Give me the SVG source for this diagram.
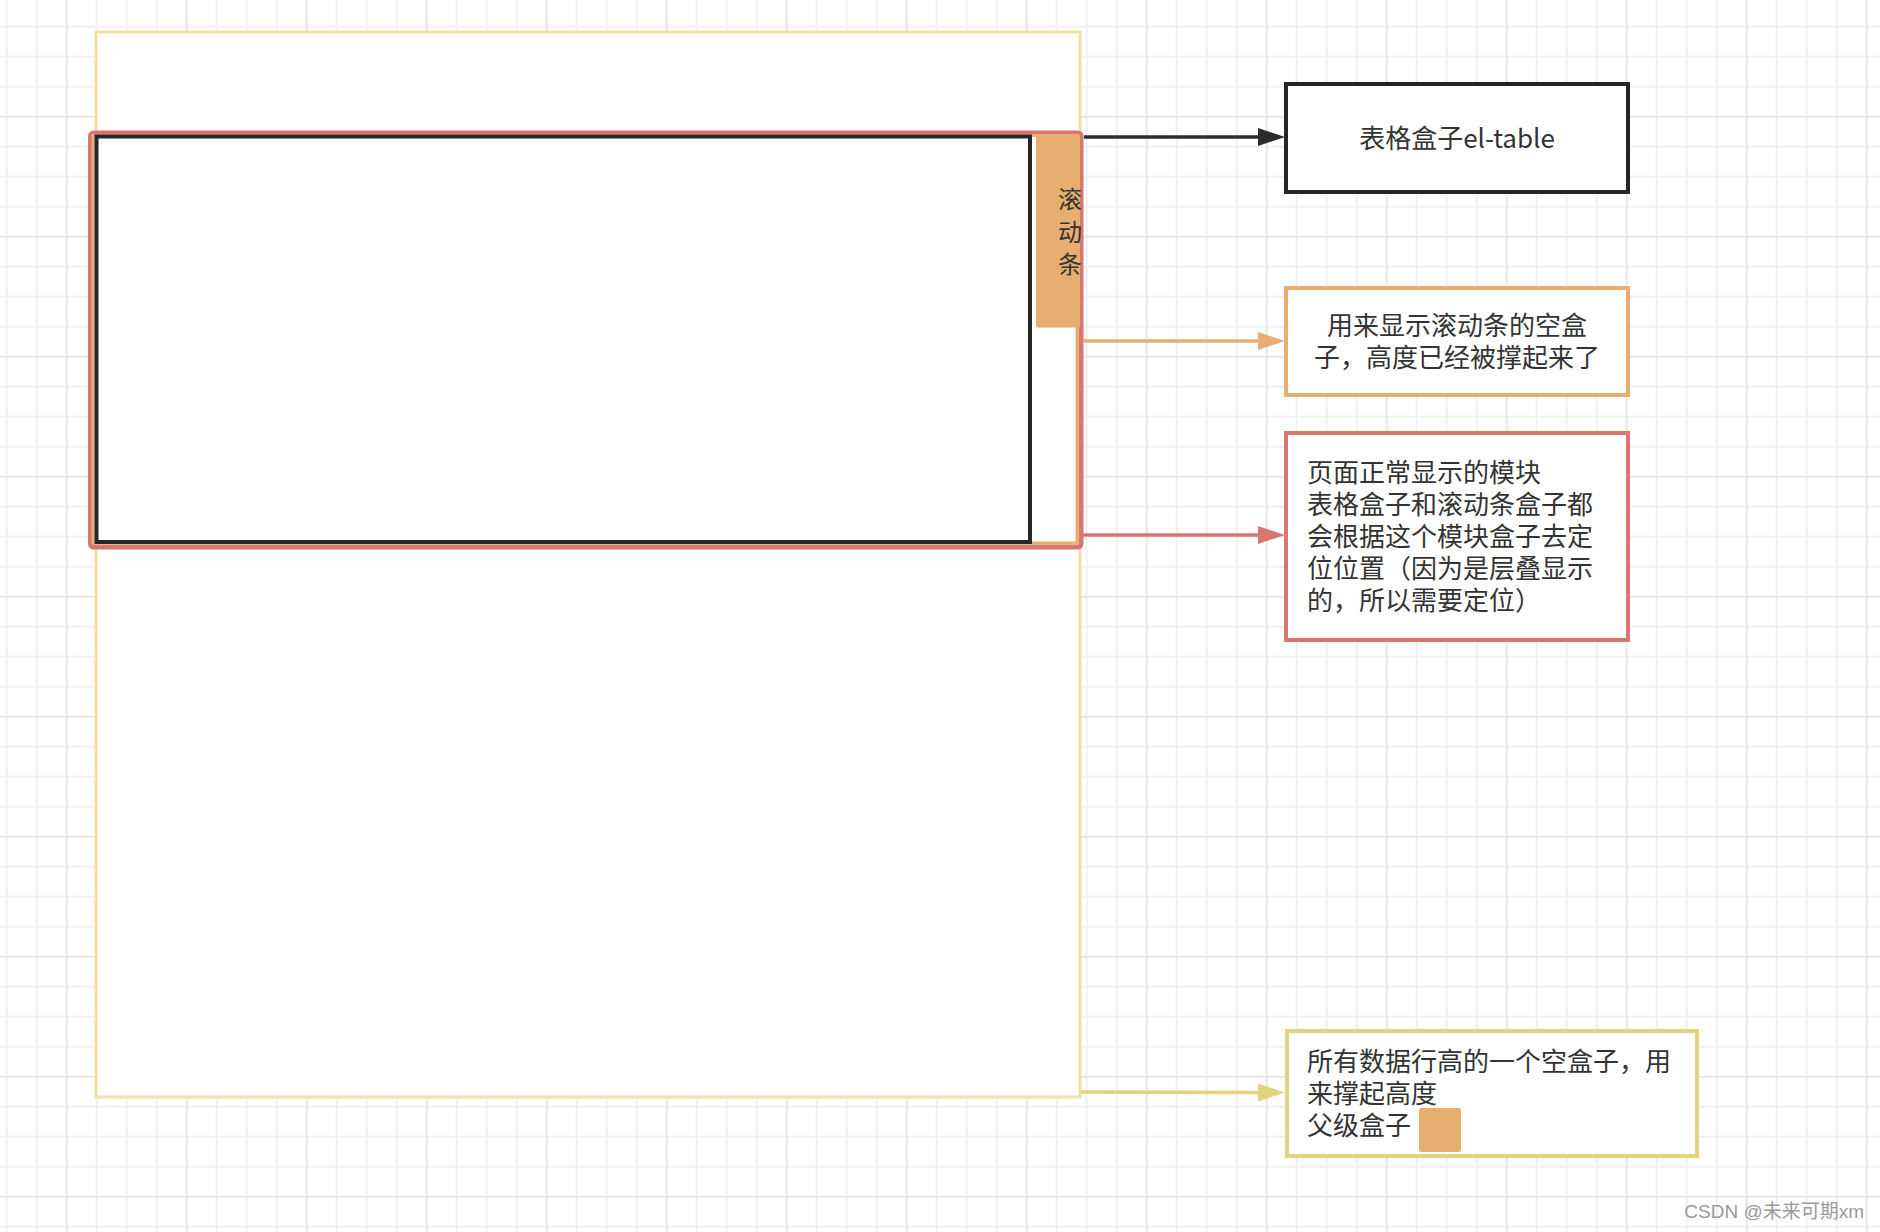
<svg xmlns="http://www.w3.org/2000/svg" width="1880" height="1232" viewBox="0 0 1880 1232">
<style>
.t{font-family:"Noto Sans CJK SC","Liberation Sans",sans-serif;font-size:26px;fill:#333333}
.c{text-anchor:middle}
.wm{font-family:"Liberation Sans","Noto Sans CJK SC",sans-serif;font-size:19px;fill:#9a9a9a;text-anchor:end}
.box{fill:#ffffff}
</style>
<defs>
<pattern id="grid" patternUnits="userSpaceOnUse" x="-8.33" y="11.67" width="120" height="120">
<rect width="120" height="120" fill="#ffffff"/>
<g stroke="#f0f0f0" stroke-width="2">
<line x1="15" y1="0" x2="15" y2="120"/><line x1="45" y1="0" x2="45" y2="120"/><line x1="105" y1="0" x2="105" y2="120"/>
<line x1="0" y1="15" x2="120" y2="15"/><line x1="0" y1="45" x2="120" y2="45"/><line x1="0" y1="75" x2="120" y2="75"/>
</g>
<g stroke="#e6e6e6" stroke-width="2">
<line x1="75" y1="0" x2="75" y2="120"/>
<line x1="0" y1="105" x2="120" y2="105"/>
</g>
</pattern>
<marker id="aBlack" markerUnits="userSpaceOnUse" markerWidth="28" markerHeight="20" refX="0" refY="9" orient="auto"><path d="M0,0 L27,9 L0,18 z" fill="#2b2b2b"/></marker>
<marker id="aOrange" markerUnits="userSpaceOnUse" markerWidth="28" markerHeight="20" refX="0" refY="9" orient="auto"><path d="M0,0 L27,9 L0,18 z" fill="#E8AE70"/></marker>
<marker id="aRed" markerUnits="userSpaceOnUse" markerWidth="28" markerHeight="20" refX="0" refY="9" orient="auto"><path d="M0,0 L27,9 L0,18 z" fill="#D9766F"/></marker>
<marker id="aYellow" markerUnits="userSpaceOnUse" markerWidth="28" markerHeight="20" refX="0" refY="9" orient="auto"><path d="M0,0 L27,9 L0,18 z" fill="#E3D27E"/></marker>
</defs>
<rect width="1880" height="1232" fill="url(#grid)"/>

<g id="parent-box">
<rect class="box" x="96" y="32" width="984" height="1065" stroke="#F0E1A6" stroke-width="3"/>
</g>

<g id="module-box">
<rect class="box" x="90.5" y="133" width="990.5" height="414" rx="3" stroke="#D9766F" stroke-width="5"/>
<rect x="93" y="135.5" width="984" height="407.5" fill="none" stroke="#E8AE70" stroke-width="3"/>
</g>

<g id="table-box">
<rect x="96.5" y="136.5" width="933.5" height="405.5" fill="none" stroke="#262626" stroke-width="4"/>
</g>

<g id="scrollbar">
<rect x="1036" y="134" width="44" height="193.5" rx="2" fill="#E8AE70"/>
<text class="t c" style="font-size:24px" x="1070" y="208">滚<tspan x="1070" dy="33">动</tspan><tspan x="1070" dy="32">条</tspan></text>
</g>

<g id="connectors" fill="none" stroke-width="3.5">
<line x1="1084" y1="137" x2="1258" y2="137" stroke="#2b2b2b" marker-end="url(#aBlack)"/>
<line x1="1083" y1="341" x2="1258" y2="341" stroke="#E8AE70" marker-end="url(#aOrange)"/>
<line x1="1083" y1="535" x2="1258" y2="535" stroke="#D9766F" marker-end="url(#aRed)"/>
<line x1="1081" y1="1092" x2="1258" y2="1092.5" stroke="#E3D27E" marker-end="url(#aYellow)"/>
</g>

<g id="label-table">
<rect class="box" x="1286" y="84" width="342" height="108" stroke="#262626" stroke-width="4"/>
<text class="t c" x="1457" y="148">表格盒子el-table</text>
</g>

<g id="label-scroll">
<rect class="box" x="1286" y="288" width="342" height="107" stroke="#E8AE70" stroke-width="4"/>
<text class="t c" x="1457" y="335">用来显示滚动条的空盒<tspan x="1457" dy="32">子，高度已经被撑起来了</tspan></text>
</g>

<g id="label-module">
<rect class="box" x="1286" y="433" width="342" height="207" stroke="#D9766F" stroke-width="4"/>
<text class="t" x="1307" y="482">页面正常显示的模块<tspan x="1307" dy="32">表格盒子和滚动条盒子都</tspan><tspan x="1307" dy="32">会根据这个模块盒子去定</tspan><tspan x="1307" dy="32">位位置（因为是层叠显示</tspan><tspan x="1307" dy="32">的，所以需要定位）</tspan></text>
</g>

<g id="label-parent">
<rect class="box" x="1287" y="1031" width="410" height="125" stroke="#E3D27E" stroke-width="4"/>
<text class="t" x="1307" y="1071">所有数据行高的一个空盒子，用<tspan x="1307" dy="32">来撑起高度</tspan><tspan x="1307" dy="32">父级盒子</tspan></text>
<rect x="1419" y="1108" width="42" height="44" rx="2" fill="#E8AE70"/>
</g>

<text class="wm" x="1864" y="1218">CSDN @未来可期xm</text>
</svg>
